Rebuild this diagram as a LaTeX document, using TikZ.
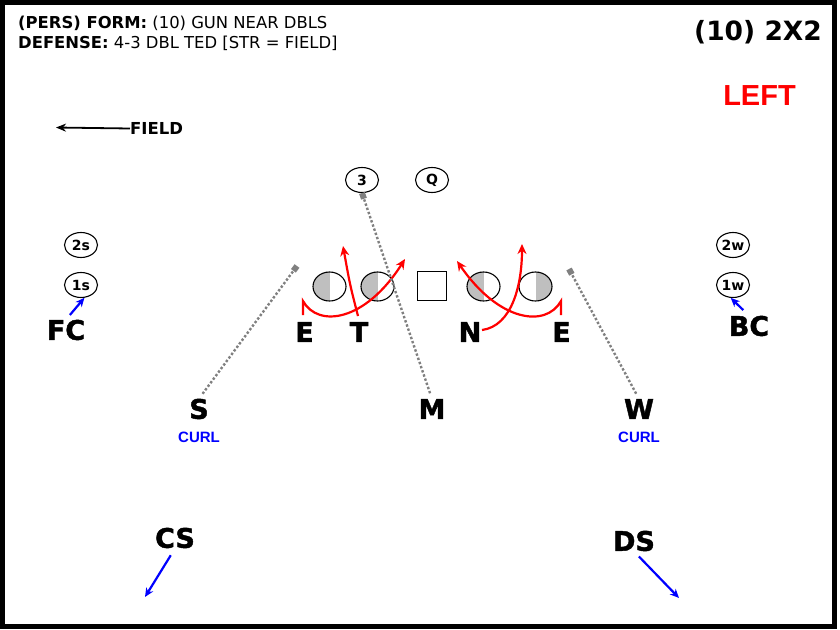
\documentclass[tikz,border=0pt]{standalone}
\usepackage{fontspec}
\setmainfont{DejaVu Sans}
\newfontfamily\libsans{Liberation Sans}
\newfontfamily\heavyfont[FakeBold=1.6]{DejaVu Sans Bold}
\usetikzlibrary{arrows.meta,shapes.geometric}
\definecolor{routered}{RGB}{255,0,0}
\definecolor{curlblue}{RGB}{0,0,255}
\definecolor{dotgray}{RGB}{128,128,128}
\definecolor{lineshade}{RGB}{191,191,191}
\begin{document}
\begin{tikzpicture}[x=1pt,y=-1pt,
  deflet/.style={font=\heavyfont\fontsize{27}{27}\selectfont, inner sep=0pt},
  offcirc/.style={draw, ellipse, line width=1.1pt, minimum width=33pt, minimum height=25pt, inner sep=0pt, font=\fontsize{14}{14}\selectfont\bfseries},
  olman/.style={draw, ellipse, line width=1.1pt, minimum width=33pt, minimum height=29pt, inner sep=0pt},
  shadeleft/.style={olman, path picture={\fill[lineshade] (path picture bounding box.south west) rectangle (path picture bounding box.north);}},
  shaderight/.style={olman, path picture={\fill[lineshade] (path picture bounding box.south) rectangle (path picture bounding box.north east);}},
  centerbox/.style={draw, line width=1.1pt, minimum width=29pt, minimum height=29pt, inner sep=0pt},
  redroute/.style={draw=routered, line width=2.2pt, -{Stealth[length=10pt,width=9pt]}},
  grayroute/.style={draw=dotgray, line width=2.4pt, dotted, -{Square[length=6pt,width=6pt]}},
  blueroute/.style={draw=curlblue, line width=2.2pt, -{Stealth[length=9pt,width=8pt]}},
  curllab/.style={font=\libsans\fontsize{15}{15}\selectfont\bfseries, text=curlblue, inner sep=0pt}
]
\useasboundingbox (0,0) rectangle (840,629);
\draw[line width=5pt] (2.5,2.5) rectangle (834.5,626.5);

% header
\node[anchor=base west, inner sep=0pt, font=\fontsize{16.4}{16.4}\selectfont] (hdr1) at (18,28) {\textbf{(PERS) FORM:} (10) GUN NEAR DBLS};
\node[anchor=base west, inner sep=0pt, font=\fontsize{16.4}{16.4}\selectfont] (hdr2) at (18,48) {\textbf{DEFENSE:} 4-3 DBL TED [STR = FIELD]};
\node[anchor=base east, inner sep=0pt, font=\fontsize{26.5}{26.5}\selectfont\bfseries] (title) at (822,40) {(10) 2X2};
\node[inner sep=0pt, font=\libsans\fontsize{29}{29}\selectfont\bfseries, text=routered] (side) at (759.5,96) {LEFT};

% field arrow
\node[anchor=west, inner sep=0pt, font=\fontsize{16.5}{16.5}\selectfont\bfseries] (field) at (130,128.5) {FIELD};
\coordinate (fieldend) at (56,127.5);
\draw[line width=1.8pt, -{Stealth[length=10pt,width=8pt]}] (field.west) -- (fieldend);

% offense
\node[offcirc] (three) at (362,180) {3};
\node[offcirc] (qb) at (432,180) {Q};
\node[offcirc] (s2) at (81,245) {2s};
\node[offcirc] (s1) at (81,285) {1s};
\node[offcirc] (w2) at (733,245) {2w};
\node[offcirc] (w1) at (733,285) {1w};
\node[shadeleft] (lt) at (329.5,286.5) {};
\node[shadeleft] (lg) at (377.5,286.5) {};
\node[centerbox] (ctr) at (432,286) {};
\node[shadeleft] (rg) at (483.5,286.5) {};
\node[shaderight] (rt) at (535.5,286.5) {};

% defense
\node[deflet] (eL) at (304.5,332) {E};
\node[deflet] (tk) at (359,332) {T};
\node[deflet] (nt) at (470,332) {N};
\node[deflet] (eR) at (561.5,332) {E};
\node[deflet] (fc) at (66,330) {FC};
\node[deflet] (bc) at (749,326) {BC};
\node[deflet] (sam) at (199,409) {S};
\node[deflet] (mike) at (432,409) {M};
\node[deflet] (will) at (639,409) {W};
\node[curllab] (curlS) at (199,437) {CURL};
\node[curllab] (curlW) at (639,437) {CURL};
\node[deflet] (cs) at (175,538) {CS};
\node[deflet] (ds) at (634,541) {DS};

% red line routes
\coordinate (eLtick) at (303,315);
\coordinate (eLtop) at (303,301);
\coordinate (eLend) at (405,259);
\draw[redroute] (eLtick) -- (eLtop) .. controls (318,328) and (365,322) .. (eLend);
\coordinate (tkstart) at (358,316);
\coordinate (tkend) at (343,246);
\draw[redroute] (tkstart) .. controls (350,285) .. (tkend);
\coordinate (ntstart) at (482,330);
\coordinate (ntend) at (522,244);
\draw[redroute] (ntstart) .. controls (512,326) and (522,285) .. (ntend);
\coordinate (eRtick) at (561,315);
\coordinate (eRtop) at (561,301);
\coordinate (eRend) at (457,261);
\draw[redroute] (eRtick) -- (eRtop) .. controls (546,328) and (499,322) .. (eRend);

% gray dotted drops
\coordinate (samend) at (297,266);
\coordinate (willend) at (569,269);
\draw[grayroute, shorten <=6pt] (sam.north) -- (samend);
\draw[grayroute, shorten <=6pt] (mike.north) -- (three.south);
\draw[grayroute, shorten <=6pt] (will.north) -- (willend);

% blue arrows
\draw[blueroute, shorten <=6pt] (fc.north) -- (s1.-75);
\draw[blueroute, shorten <=8pt] (bc.north) -- (w1.-100);
\coordinate (csend) at (145,597);
\coordinate (dsend) at (679,598);
\draw[blueroute, shorten <=8pt] (cs.south) -- (csend);
\draw[blueroute, shorten <=7pt] (ds.south) -- (dsend);
\end{tikzpicture}
\end{document}
